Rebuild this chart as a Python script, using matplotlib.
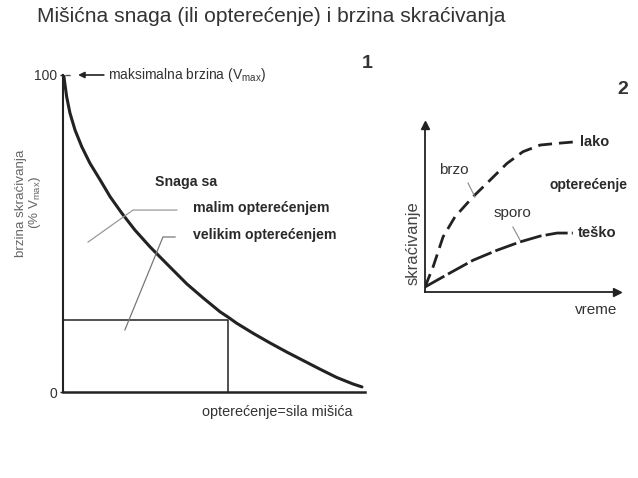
import matplotlib
matplotlib.use("Agg")
import matplotlib.pyplot as plt

plt.rcParams['font.family'] = ['Liberation Sans', 'DejaVu Sans']

# panel 1: force-velocity curve (x = load fraction, y = % Vmax)
sila = [0.0, 0.003, 0.012, 0.023, 0.040, 0.062, 0.089, 0.123, 0.156, 0.194,
        0.238, 0.288, 0.343, 0.410, 0.465, 0.520, 0.547, 0.575, 0.630, 0.685,
        0.741, 0.796, 0.851, 0.906, 0.961, 0.99]
brzina = [100, 99.5, 93.2, 88.0, 82.6, 77.4, 72.2, 66.9, 61.6, 56.5,
          51.1, 45.8, 40.5, 34.1, 29.6, 25.3, 23.6, 21.7, 18.5, 15.5,
          12.6, 9.9, 7.2, 4.6, 2.5, 1.6]
rad_x = 0.546
rad_y = 22.7

# panel 2: shortening over time
vreme = [0.0, 0.042, 0.094, 0.156, 0.25, 0.339, 0.427, 0.51, 0.6, 0.688, 0.79]
lako = [0.03, 0.15, 0.33, 0.45, 0.57, 0.67, 0.77, 0.84, 0.88, 0.89, 0.90]
vreme_t = [0.0, 0.13, 0.25, 0.375, 0.495, 0.6, 0.688, 0.77]
tesko = [0.03, 0.114, 0.19, 0.25, 0.30, 0.335, 0.353, 0.353]

ink = '#222222'
W, H = 638, 478

fig = plt.figure(figsize=(6.38, 4.78), dpi=100)
fig.text(37 / W, 1 - 16 / H, 'Mišićna snaga (ili opterećenje) i brzina skraćivanja',
         fontsize=15.1, color='#333333', ha='left', va='center')

# ---- left panel
ax = fig.add_axes([63 / W, 86 / H, 302 / W, 317 / H])
ax.plot(sila, brzina, color=ink, lw=2.2, solid_capstyle='round', solid_joinstyle='round')
ax.plot([0, rad_x, rad_x], [rad_y, rad_y, 0], color=ink, lw=1.1)
ax.set_xlim(0, 1.0)
ax.set_ylim(0, 100)
for s in ['top', 'right']:
    ax.spines[s].set_visible(False)
ax.spines['left'].set_linewidth(1.5)
ax.spines['bottom'].set_linewidth(1.8)
ax.spines['left'].set_color(ink)
ax.spines['bottom'].set_color(ink)
ax.set_xticks([])
ax.set_yticks([0, 100])
ax.set_yticklabels(['0', '100'], fontsize=10, color='#333333')
ax.tick_params(axis='y', length=2, width=1, color=ink, pad=2.5)
ax.patch.set_alpha(0)

ax.plot([0.007, 0.03], [100, 100], color='#555555', lw=1, ls='--', clip_on=False)
ax.annotate('maksimalna brzina (V$_{\\mathregular{max}}$)', xy=(0.05, 100), xytext=(0.149, 100),
            fontsize=10, color='#333333', ha='left', va='center',
            arrowprops=dict(arrowstyle='-|>', color=ink, lw=1.2, mutation_scale=9,
                            shrinkA=1, shrinkB=0))
ax.text(1.007, 103.5, '1', fontsize=14, fontweight='bold', color='#333333',
        ha='center', va='center', clip_on=False)

ax.text(0.305, 66.2, 'Snaga sa', fontsize=10.2, fontweight='bold', color='#2a2a2a',
        ha='left', va='center')
ax.text(0.43, 58, 'malim opterećenjem', fontsize=10.2, fontweight='bold', color='#2a2a2a',
        ha='left', va='center')
ax.text(0.43, 49.5, 'velikim opterećenjem', fontsize=10.2, fontweight='bold', color='#2a2a2a',
        ha='left', va='center')
ax.plot([0.083, 0.232, 0.377], [47.3, 57.4, 57.4], color='#999999', lw=0.9)
ax.plot([0.205, 0.331, 0.371], [19.6, 48.9, 48.9], color='#777777', lw=0.9)

ax.text(0.709, -6.3, 'opterećenje=sila mišića', fontsize=10.4, color='#333333',
        ha='center', va='center', clip_on=False)

fig.text(29 / W, 1 - 203 / H, 'brzina skraćivanja\n(% V$_{\\mathregular{max}}$)',
         fontsize=9.6, color='#666666',
         rotation=90, ha='center', va='center', linespacing=1.0)

# ---- right panel
bx = fig.add_axes([425 / W, 186 / H, 192 / W, 167 / H])
bx.plot(vreme, lako, color=ink, lw=2.0, dashes=(5, 2.5))
bx.plot(vreme_t, tesko, color=ink, lw=2.0, dashes=(8, 1.5))
bx.set_xlim(0, 1)
bx.set_ylim(0, 1)
for s in ['top', 'right']:
    bx.spines[s].set_visible(False)
for s in ['left', 'bottom']:
    bx.spines[s].set_linewidth(1.3)
    bx.spines[s].set_color(ink)
bx.set_xticks([])
bx.set_yticks([])
bx.patch.set_alpha(0)
bx.plot(1, 0, '>', color=ink, ms=6, transform=bx.get_yaxis_transform(), clip_on=False)
bx.plot(0, 1, '^', color=ink, ms=6, transform=bx.get_xaxis_transform(), clip_on=False)

bx.text(1.03, 1.21, '2', fontsize=14, fontweight='bold', color='#333333',
        ha='center', va='center', clip_on=False)
bx.text(-0.0625, 0.293, 'skraćivanje',
        fontsize=12, color='#444444', rotation=90, ha='center', va='center', clip_on=False)
bx.text(1.0, -0.108, 'vreme', fontsize=11, color='#333333', ha='right', va='center',
        clip_on=False)
bx.text(0.151, 0.73, 'brzo', fontsize=11, color='#333333', ha='center', va='center')
bx.text(0.453, 0.473, 'sporo', fontsize=11, color='#333333', ha='center', va='center')
bx.plot([0.224, 0.26], [0.653, 0.569], color='#888888', lw=0.8)
bx.plot([0.458, 0.495], [0.389, 0.311], color='#888888', lw=0.8)
bx.text(0.807, 0.898, 'lako', fontsize=10.5, fontweight='bold', color='#2a2a2a',
        ha='left', va='center', clip_on=False)
bx.text(0.854, 0.64, 'opterećenje', fontsize=10, fontweight='bold', color='#2a2a2a',
        ha='center', va='center', clip_on=False)
bx.text(0.797, 0.353, 'teško', fontsize=10.6, fontweight='bold', color='#2a2a2a',
        ha='left', va='center', clip_on=False)

fig.savefig('out.png', dpi=100)
